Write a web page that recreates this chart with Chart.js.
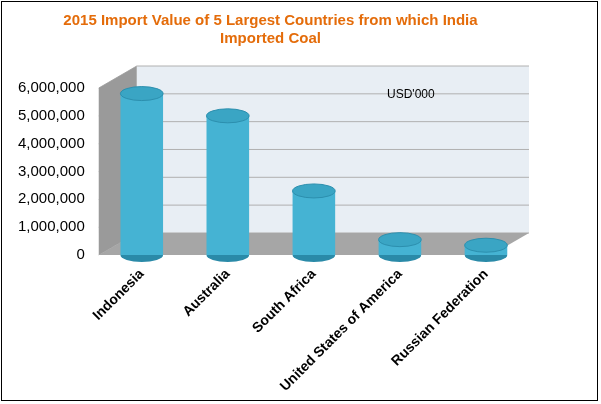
<!DOCTYPE html>
<html>
<head>
<meta charset="utf-8">
<script src="https://cdn.jsdelivr.net/npm/chart.js@4"></script>
<style>
  html, body { margin: 0; padding: 0; background: #fff; }
  #frame { position: absolute; left: 1px; top: 1px; width: 597px; height: 400px; border: 1px solid #000; box-sizing: border-box; }
  #wrap { position: absolute; left: 0; top: 0; width: 597px; height: 400px; }
</style>
</head>
<body>
<div id="frame"><div id="wrap"><canvas id="c"></canvas></div></div>
<script>
// data
const countries = ['Indonesia', 'Australia', 'South Africa', 'United States of America', 'Russian Federation']
const importValues = [5800000, 5000000, 2300000, 550000, 350000]
const tickValues = [0, 1000000, 2000000, 3000000, 4000000, 5000000, 6000000]

// back wall + cylinder caps
const cylinder3d = {
  id: 'cylinder3d',
  beforeDatasetsDraw(chart) {
    const { ctx, chartArea: a } = chart
    ctx.save()
    // back wall
    ctx.fillStyle = '#e8eef4'
    ctx.fillRect(a.left + 38, a.top - 22, a.right - a.left - 38, a.bottom - a.top)
    ctx.strokeStyle = '#b0b0b0'
    ctx.lineWidth = 1
    const y = chart.scales.y
    tickValues.forEach(v => {
      const py = y.getPixelForValue(v) - 22
      ctx.beginPath(); ctx.moveTo(a.left + 38, py); ctx.lineTo(a.right, py); ctx.stroke()
      ctx.beginPath(); ctx.moveTo(a.left, py + 22); ctx.lineTo(a.left + 38, py); ctx.stroke()
    })
    // left wall
    ctx.fillStyle = '#9a9a9a'
    ctx.beginPath()
    ctx.moveTo(a.left, a.top); ctx.lineTo(a.left + 38, a.top - 22)
    ctx.lineTo(a.left + 38, a.bottom - 22); ctx.lineTo(a.left, a.bottom); ctx.closePath(); ctx.fill()
    // floor
    ctx.fillStyle = '#a6a6a6'
    ctx.beginPath()
    ctx.moveTo(a.left, a.bottom); ctx.lineTo(a.left + 38, a.bottom - 22)
    ctx.lineTo(a.right, a.bottom - 22); ctx.lineTo(a.right - 38, a.bottom); ctx.closePath(); ctx.fill()
    ctx.restore()
  },
  afterDatasetsDraw(chart) {
    const { ctx } = chart
    ctx.save()
    chart.getDatasetMeta(0).data.forEach(bar => {
      const w = bar.width, cx = bar.x
      ctx.fillStyle = '#2a8aa8'
      ctx.beginPath(); ctx.ellipse(cx, bar.base, w / 2, 7, 0, 0, Math.PI); ctx.fill()
      ctx.fillStyle = '#3aa5c4'
      ctx.beginPath(); ctx.ellipse(cx, bar.y, w / 2, 7, 0, 0, Math.PI * 2); ctx.fill()
      ctx.strokeStyle = '#2c8fae'
      ctx.stroke()
    })
    ctx.restore()
  }
}

new Chart(document.getElementById('c'), {
  type: 'bar',
  data: {
    labels: countries,
    datasets: [{
      data: importValues,
      backgroundColor: ctx => {
        const bar = ctx.element
        const chart = ctx.chart
        if (!bar || !chart.chartArea || !isFinite(bar.x) || !isFinite(bar.width)) return '#45b3d3'
        const g = chart.ctx.createLinearGradient(bar.x - bar.width / 2, 0, bar.x + bar.width / 2, 0)
        g.addColorStop(0, '#1e7894')
        g.addColorStop(0.35, '#5ec8e4')
        g.addColorStop(1, '#1f7c99')
        return g
      },
      borderWidth: 0,
      barPercentage: 0.55, categoryPercentage: 0.9
    }]
  },
  options: {
    responsive: true, maintainAspectRatio: false, animation: false,
    layout: { padding: { left: 10, right: 70, top: 10, bottom: 4 } },
    plugins: {
      legend: { display: false },
      tooltip: { enabled: false },
      title: {
        display: true,
        text: ['2015 Import Value of 5 Largest Countries from which India', 'Imported Coal'],
        color: '#e46c0a',
        font: { family: 'Arial, Liberation Sans', size: 15, weight: 'bold' },
        padding: { top: 0, bottom: 40 }
      }
    },
    scales: {
      x: {
        grid: { display: false }, border: { display: false },
        ticks: {
          color: '#000', maxRotation: 45, minRotation: 45,
          font: { family: 'Arial, Liberation Sans', size: 14, weight: 'bold' }
        }
      },
      y: {
        min: 0, max: 6000000,
        grid: { display: false }, border: { display: false },
        afterBuildTicks: s => { s.ticks = tickValues.map(v => ({ value: v })) },
        ticks: {
          color: '#000', padding: 6,
          font: { family: 'Arial, Liberation Sans', size: 15 },
          callback: v => v.toLocaleString('en-US')
        }
      }
    }
  },
  plugins: [cylinder3d, {
    id: 'unitLabel',
    afterDraw(chart) {
      const { ctx, chartArea: a } = chart
      ctx.save()
      ctx.fillStyle = '#000'
      ctx.font = '12px Arial, Liberation Sans'
      ctx.fillText("USD'000", 385, a.top + 10)
      ctx.restore()
    }
  }]
})
</script>
</body>
</html>
